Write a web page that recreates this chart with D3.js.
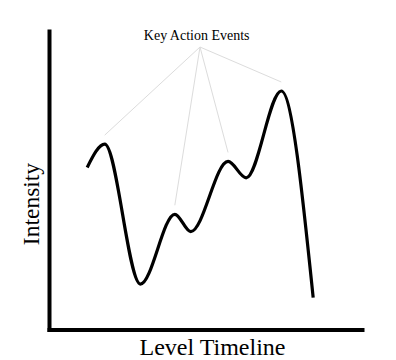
<!DOCTYPE html>
<html>
<head>
<meta charset="utf-8">
<script src="https://cdn.jsdelivr.net/npm/d3@7"></script>
<style>
  body { margin: 0; background: #fff; }
  svg text { font-family: "Liberation Serif", "Times New Roman", serif; fill: #000; }
</style>
</head>
<body>
<div id="chart"></div>
<script>
// level timeline position (0-100) and intensity (0-100), turning points of the curve
const timeline = [12.2, 17.8, 29.2, 40.2, 45.3, 57.2, 63.0, 74.2, 84.4];
const intensity = [54.3, 62.1, 15.2, 38.6, 32.8, 56.3, 50.8, 79.9, 10.7];

// which points are the key action events (peaks)
const keyEvents = [1, 3, 5, 7];
const eventLabel = "Key Action Events";
const xLabel = "Level Timeline";
const yLabel = "Intensity";

const width = 396, height = 360;
var margin = {top: 31, right: 34, bottom: 30.5, left: 49};

const svg = d3.select("#chart")
  .append("svg")
  .attr("width", width)
  .attr("height", height);

const x = d3.scaleLinear()
  .domain([0, 100])
  .range([margin.left, width - margin.right]);

const y = d3.scaleLinear()
  .domain([0, 100])
  .range([height - margin.bottom, margin.top]);

const data = timeline.map((t, i) => ({t: t, v: intensity[i]}));

// axes: plain thick lines, no ticks
const xAxis = svg.append("g")
  .attr("transform", "translate(0," + y(0) + ")")
  .call(d3.axisBottom(x).ticks(0).tickSizeOuter(0));
const yAxis = svg.append("g")
  .attr("transform", "translate(" + x(0) + ",0)")
  .call(d3.axisLeft(y).ticks(0).tickSizeOuter(0));
svg.selectAll(".domain")
  .attr("stroke", "#000")
  .attr("stroke-width", 4)
  .attr("stroke-linecap", "square");

// annotation lines from the label down to each peak
const apex = {x: 200, y: 47};
svg.selectAll("line.event")
  .data(keyEvents)
  .enter()
  .append("line")
    .attr("class", "event")
    .attr("x1", apex.x)
    .attr("y1", apex.y)
    .attr("x2", d => x(data[d].t))
    .attr("y2", d => y(data[d].v) - 9)
    .attr("stroke", "#dcdcdc")
    .attr("stroke-width", 1);

svg.append("text")
  .attr("x", 196.7)
  .attr("y", 40)
  .attr("text-anchor", "middle")
  .style("font-size", "14px")
  .text(eventLabel);

// the intensity curve
const line = d3.line()
  .x(d => x(d.t))
  .y(d => y(d.v))
  .curve(d3.curveMonotoneX);

svg.append("path")
  .datum(data)
  .attr("d", line)
  .attr("fill", "none")
  .attr("stroke", "#000")
  .attr("stroke-width", 3.2);

// axis titles
svg.append("text")
  .attr("x", 212.5)
  .attr("y", 355)
  .attr("text-anchor", "middle")
  .style("font-size", "24px")
  .text(xLabel);

svg.append("text")
  .attr("transform", "translate(39,204)rotate(-90)")
  .attr("text-anchor", "middle")
  .style("font-size", "23.5px")
  .text(yLabel);
</script>
</body>
</html>
